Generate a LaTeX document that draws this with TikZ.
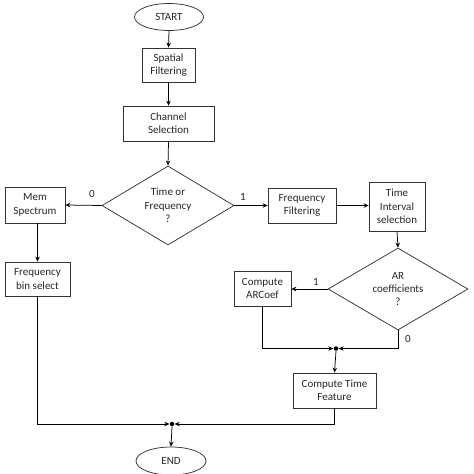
\documentclass[tikz,border=0pt]{standalone}
\usepackage{fontspec}
\setmainfont{Carlito}
\usetikzlibrary{shapes.geometric,arrows.meta}

\tikzset{every picture/.style={line width=0.75pt}}
\tikzset{
  flowbox/.style={draw=black!80, rectangle, inner sep=0pt, align=center, font=\fontsize{11}{13.4}\selectfont, text=black!85},
  termbox/.style={draw=black!80, ellipse, inner sep=0pt, align=center, font=\fontsize{11}{13.4}\selectfont, text=black!85},
  choicebox/.style={draw=black!80, diamond, inner sep=0pt, align=center, font=\fontsize{11}{13.4}\selectfont, text=black!85},
  tag/.style={font=\fontsize{11}{13.4}\selectfont, text=black!85},
  arr/.style={-{Stealth[length=5pt,width=4.5pt]}, black},
  joint/.style={circle, fill=black, inner sep=0pt, minimum size=4.5pt}
}

\begin{document}
\begin{tikzpicture}[x=1pt,y=1pt,yscale=-1,xscale=1]
\useasboundingbox (0,0) rectangle (474,474);

% Terminals
\node (start) at (169,17) [termbox, minimum width=69, minimum height=27] {START};
\node (end) at (171,461) [termbox, minimum width=70, minimum height=28] {END};

% Process boxes
\node (spat) at (168.5,65) [flowbox, minimum width=53, minimum height=34] {Spatial\\Filtering};
\node (chan) at (168.5,123.5) [flowbox, minimum width=91, minimum height=35] {Channel\\Selection};
\node (mem) at (35,205) [flowbox, minimum width=60, minimum height=36] {Mem\\Spectrum};
\node (ffilt) at (302,205.5) [flowbox, minimum width=68, minimum height=35] {Frequency\\Filtering};
\node (tint) at (397,206.5) [flowbox, minimum width=56, minimum height=49] {Time\\Interval\\selection};
\node (fbin) at (37.5,279) [flowbox, minimum width=65, minimum height=34] {Frequency\\bin select};
\node (arc) at (262.5,288.5) [flowbox, minimum width=57, minimum height=35] {Compute\\ARCoef};
\node (ctf) at (334.5,390.5) [flowbox, minimum width=83, minimum height=35] {Compute Time\\Feature};

% Decisions
\node (tf) at (168,205.5) [choicebox, aspect=1.67, minimum width=132, minimum height=79] {Time or\\Frequency\\?};
\node (ar) at (398,289) [choicebox, aspect=1.7, minimum width=140, minimum height=82] {AR\\coefficients\\?};

% Junctions
\node (j1) at (336,348.5) [joint] {};
\node (j2) at (172,424) [joint] {};

% Branch labels
\node (t0) at (92,194) [tag] {0};
\node (t1) at (243,197) [tag] {1};
\node (a1) at (316,282) [tag] {1};
\node (a0) at (408,339) [tag] {0};

% Connectors
\draw [arr] (start.south) -- (spat.north);
\draw [arr] (spat.south) -- (chan.north);
\draw [arr] (chan.south) -- (tf.north);
\draw [arr] (tf.west) -- (mem.east);
\draw [arr] (tf.east) -- (ffilt.west);
\draw [arr] (ffilt.east) -- (ffilt.east -| tint.west);
\draw [arr] (tint.south) -- (ar.north);
\draw [arr] (fbin.north |- mem.south) -- (fbin.north);
\draw [arr] (ar.west) -- (ar.west -| arc.east);
\draw [arr] (arc.south) |- (j1.west);
\draw [arr] (ar.south) |- (j1.east);
\draw [arr] (j1.south) -- (ctf.north);
\draw [arr] (fbin.south) |- (j2.west);
\draw [arr] (ctf.south) |- (j2.east);
\draw [arr] (j2.south) -- (end.north);

\end{tikzpicture}
\end{document}
